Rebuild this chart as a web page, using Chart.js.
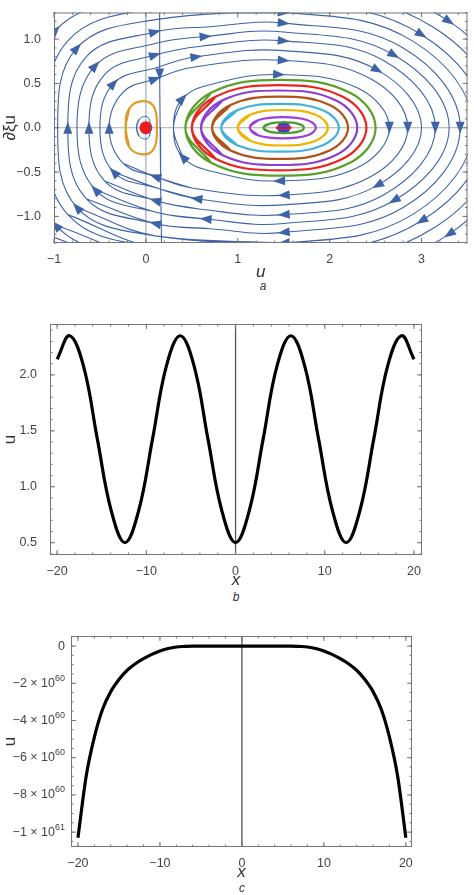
<!DOCTYPE html>
<html>
<head>
<meta charset="utf-8">
<script src="https://cdn.jsdelivr.net/npm/chart.js@4"></script>
<style>
  body { margin: 0; background: #fff; width: 474px; height: 895px; position: relative; overflow: hidden; font-family: "Liberation Sans", Arial, sans-serif; }
  canvas { position: absolute; left: 0; }
  .tag { position: absolute; font-style: italic; font-size: 12px; color: #333; width: 20px; text-align: center; }
</style>
</head>
<body>
<canvas id="pa" style="top:0"></canvas>
<canvas id="pb" style="top:300px"></canvas>
<canvas id="pc" style="top:610px"></canvas>
<div class="tag" style="left:253px;top:279px">a</div>
<div class="tag" style="left:226px;top:590px">b</div>
<div class="tag" style="left:232px;top:881px">c</div>
<script>
// ---- panel a: phase portrait ----
var orbitGreen  = [[0.43,0],[0.709,0.394],[1.465,0.54],[2.221,0.394],[2.5,0],[2.221,-0.394],[1.465,-0.54],[0.709,-0.394],[0.43,0]];
var orbitRed    = [[0.5,0],[0.757,0.35],[1.45,0.48],[2.143,0.35],[2.4,0],[2.143,-0.35],[1.45,-0.48],[0.757,-0.35],[0.5,0]];
var orbitPurple = [[0.6,0],[0.83,0.307],[1.45,0.42],[2.07,0.307],[2.3,0],[2.07,-0.307],[1.45,-0.42],[0.83,-0.307],[0.6,0]];
var orbitBrown  = [[0.72,0],[0.92,0.256],[1.46,0.35],[2.0,0.256],[2.2,0],[2.0,-0.256],[1.46,-0.35],[0.92,-0.256],[0.72,0]];
var orbitCyan   = [[0.82,0],[0.993,0.197],[1.46,0.27],[1.927,0.197],[2.1,0],[1.927,-0.197],[1.46,-0.27],[0.993,-0.197],[0.82,0]];
var orbitYellow = [[1.0,0],[1.132,0.146],[1.49,0.2],[1.848,0.146],[1.98,0],[1.848,-0.146],[1.49,-0.2],[1.132,-0.146],[1.0,0]];
var orbitViolet = [[1.13,0],[1.227,0.088],[1.49,0.12],[1.753,0.088],[1.85,0],[1.753,-0.088],[1.49,-0.12],[1.227,-0.088],[1.13,0]];
var orbitLime   = [[1.28,0],[1.34,0.044],[1.5,0.06],[1.66,0.044],[1.72,0],[1.66,-0.044],[1.5,-0.06],[1.34,-0.044],[1.28,0]];
var orbitTiny   = [[1.42,0],[1.443,0.015],[1.5,0.02],[1.557,0.015],[1.58,0],[1.557,-0.015],[1.5,-0.02],[1.443,-0.015],[1.42,0]];
var orbitLeft   = [[-0.22,0],[-0.18,0.22],[-0.03,0.3],[0.09,0.23],[0.12,0],[0.09,-0.23],[-0.03,-0.3],[-0.18,-0.22],[-0.22,0]];

var streams = [
  [[0.3,0],[0.4,0.33],[0.75,0.5],[1.45,0.6],[2.3,0.45],[2.65,0],[2.3,-0.45],[1.45,-0.6],[0.75,-0.5],[0.4,-0.33],[0.3,0]],
  [[0.1,-0.55],[-0.25,-0.4],[-0.4,0],[-0.25,0.4],[0.1,0.55],[0.5,0.68],[1.5,0.76],[2.45,0.55],[2.85,0],[2.45,-0.55],[1.5,-0.76],[0.5,-0.68],[0.1,-0.55]],
  [[0.12,-0.68],[-0.35,-0.5],[-0.5,0],[-0.35,0.5],[0.12,0.68],[0.55,0.8],[1.5,0.87],[2.52,0.65],[3.0,0],[2.52,-0.65],[1.5,-0.87],[0.55,-0.8],[0.12,-0.68]],
  [[0.1,-0.82],[-0.45,-0.6],[-0.62,0],[-0.45,0.6],[0.1,0.82],[0.6,0.92],[1.5,0.98],[2.6,0.75],[3.15,0],[2.6,-0.75],[1.5,-0.98],[0.6,-0.92],[0.1,-0.82]],
  [[0.1,-0.95],[-0.55,-0.7],[-0.75,0],[-0.55,0.7],[0.1,0.95],[0.65,1.03],[1.5,1.08],[2.7,0.82],[3.3,0],[2.7,-0.82],[1.5,-1.08],[0.65,-1.03],[0.1,-0.95]],
  [[0.1,-1.08],[-0.65,-0.8],[-0.85,0],[-0.65,0.8],[0.1,1.08],[0.7,1.14],[1.5,1.18],[2.8,0.9],[3.42,0],[2.8,-0.9],[1.5,-1.18],[0.7,-1.14],[0.1,-1.08]],
  [[0.1,-1.22],[-0.75,-0.9],[-0.96,0],[-0.75,0.9],[0.1,1.22],[1.5,1.3],[2.9,0.98],[3.56,0],[2.9,-0.98],[1.5,-1.3],[0.1,-1.22]],
  [[0.1,-1.35],[-0.85,-0.98],[-1.08,0],[-0.85,0.98],[0.1,1.35],[1.5,1.42],[3.0,1.05],[3.7,0],[3.0,-1.05],[1.5,-1.42],[0.1,-1.35]],
  [[0.1,-1.48],[-0.98,-1.1],[-1.2,0],[-0.98,1.1],[0.1,1.48],[1.5,1.56],[3.15,1.12],[3.85,0],[3.15,-1.12],[1.5,-1.56],[0.1,-1.48]],
  [[0.1,-1.62],[-1.1,-1.2],[-1.35,0],[-1.1,1.2],[0.1,1.62],[1.5,1.7],[3.3,1.2],[4.0,0],[3.3,-1.2],[1.5,-1.7],[0.1,-1.62]]
];
var streamSep = [[0.15,1.3],[0.15,0.6],[0.155,0],[0.16,-0.6],[0.17,-1.3]];
var streamCore = [[-0.1,0],[-0.07,0.1],[0.02,0.12],[0.05,0],[0.02,-0.12],[-0.07,-0.1],[-0.1,0]];
var fixedPoints = [[0,0,'#ee1c1c'],[1.5,0,'#1f3ff0']];
var aTicksX = [-1,0,1,2,3];
var aTicksY = [-1.0,-0.5,0.0,0.5,1.0];

// ---- panel b: periodic wave ----
var bX = [-20,-18.6,-17.05,-15.5,-13.95,-12.4,-10.85,-9.3,-7.75,-6.2,-4.65,-3.1,-1.55,0,
          1.55,3.1,4.65,6.2,7.75,9.3,10.85,12.4,13.95,15.5,17.05,18.6,20];
var bU = [2.14,2.35,2.08,1.43,0.79,0.5,0.79,1.43,2.08,2.35,2.08,1.43,0.79,0.5,
          0.79,1.43,2.08,2.35,2.08,1.43,0.79,0.5,0.79,1.43,2.08,2.35,2.14];
var bTicksX = [-20,-10,0,10,20];
var bTicksY = [0.5,1.0,1.5,2.0];

// ---- panel c: blow-up (values in units of 1e60) ----
var cX = [];
for (var i = -20; i <= 20; i++) cX.push(i);
var cU = [-10.3,-7.0,-4.9,-3.4,-2.45,-1.8,-1.3,-0.95,-0.68,-0.45,-0.27,-0.13,-0.05,-0.02,0,0,0,0,0,0,0,
          0,0,0,0,0,0,-0.02,-0.05,-0.13,-0.27,-0.45,-0.68,-0.95,-1.3,-1.8,-2.45,-3.4,-4.9,-7.0,-10.3];
var cTicksX = [-20,-10,0,10,20];
var cTicksY = [0,-2,-4,-6,-8,-10];
var cTickMant = ['0','\u22122 \u00d7 10','\u22124 \u00d7 10','\u22126 \u00d7 10','\u22128 \u00d7 10','\u22121 \u00d7 10'];
var cTickExp = ['','60','60','60','60','61'];

var tickFont = { family: 'Liberation Sans', size: 12.5 };
var tickColor = '#444';
var blue = '#3d63a8';

function pts(list) { return list.map(function (p) { return { x: p[0], y: p[1] }; }); }

var framePlugin = {
  id: 'frame',
  beforeDatasetsDraw: function (chart, args, o) {
    var c = chart.ctx, a = chart.chartArea, x = chart.scales.x, y = chart.scales.y;
    c.save();
    c.beginPath(); c.rect(a.left, a.top, a.right - a.left, a.bottom - a.top); c.clip();
    if (o.zeroH) { c.strokeStyle = o.zeroH; c.lineWidth = 1; c.beginPath(); var py = y.getPixelForValue(0); c.moveTo(a.left, py); c.lineTo(a.right, py); c.stroke(); }
    if (o.zeroV) { c.strokeStyle = o.zeroV; c.lineWidth = o.zeroW || 1; c.beginPath(); var px = x.getPixelForValue(0); c.moveTo(px, a.top); c.lineTo(px, a.bottom); c.stroke(); }
    c.restore();
  },
  afterDraw: function (chart, args, o) {
    var c = chart.ctx, a = chart.chartArea, x = chart.scales.x, y = chart.scales.y;
    c.save();
    c.strokeStyle = '#777'; c.lineWidth = 1;
    c.strokeRect(a.left + 0.5, a.top + 0.5, a.right - a.left - 1, a.bottom - a.top - 1);
    function tx(v, len) { var p = x.getPixelForValue(v); c.beginPath(); c.moveTo(p, a.bottom); c.lineTo(p, a.bottom - len); c.moveTo(p, a.top); c.lineTo(p, a.top + len); c.stroke(); }
    function ty(v, len) { var p = y.getPixelForValue(v); c.beginPath(); c.moveTo(a.left, p); c.lineTo(a.left + len, p); c.moveTo(a.right, p); c.lineTo(a.right - len, p); c.stroke(); }
    var v;
    for (v = Math.ceil(x.min / o.xMinor) * o.xMinor; v <= x.max; v += o.xMinor) tx(v, 2.5);
    for (v = Math.ceil(y.min / o.yMinor) * o.yMinor; v <= y.max; v += o.yMinor) ty(v, 2.5);
    x.ticks.forEach(function (t) { tx(t.value, 5); });
    y.ticks.forEach(function (t) { ty(t.value, 5); });
    // power-of-ten labels drawn as text with raised exponent
    if (o.mant) {
      c.fillStyle = tickColor; c.textBaseline = 'middle'; c.textAlign = 'left';
      o.vals.forEach(function (val, k) {
        var p = y.getPixelForValue(val);
        c.font = '12.5px "Liberation Sans"';
        var w1 = c.measureText(o.mant[k]).width;
        c.font = '9px "Liberation Sans"';
        var w2 = c.measureText(o.exp[k]).width;
        var x0 = a.left - 6 - w1 - w2;
        c.font = '12.5px "Liberation Sans"';
        c.fillText(o.mant[k], x0, p);
        c.font = '9px "Liberation Sans"';
        c.fillText(o.exp[k], x0 + w1, p - 5);
      });
    }
    c.restore();
  }
};

var arrowPlugin = {
  id: 'arrows',
  afterDatasetsDraw: function (chart) {
    var c = chart.ctx, a = chart.chartArea;
    c.save();
    c.beginPath(); c.rect(a.left, a.top, a.right - a.left, a.bottom - a.top); c.clip();
    chart.data.datasets.forEach(function (ds, di) {
      if (!ds.arrows) return;
      var el = chart.getDatasetMeta(di).data;
      for (var i = ds.arrowStart || 1; i < el.length - 1; i += ds.arrowStep || 2) {
        var ang = Math.atan2(el[i + 1].y - el[i - 1].y, el[i + 1].x - el[i - 1].x);
        c.save();
        c.translate(el[i].x, el[i].y); c.rotate(ang);
        c.fillStyle = blue;
        c.beginPath(); c.moveTo(6, 0); c.lineTo(-6, -4.5); c.lineTo(-6, 4.5); c.closePath(); c.fill();
        c.restore();
      }
    });
    c.restore();
  }
};

function axisFit(size) { return function (s) { if (s.isHorizontal()) s.height = size; else s.width = size; }; }
function fixTicks(vals) { return function (s) { s.ticks = vals.map(function (v) { return { value: v }; }); }; }

function makeChart(id, w, h, datasets, cfg) {
  var el = document.getElementById(id);
  el.width = w; el.height = h;
  el.style.width = w + 'px'; el.style.height = h + 'px';
  return new Chart(el, {
    type: 'scatter',
    data: { datasets: datasets },
    options: {
      responsive: false, animation: false,
      layout: { padding: cfg.padding },
      plugins: { legend: { display: false }, tooltip: { enabled: false }, frame: cfg.frame },
      scales: {
        x: {
          min: cfg.x[0], max: cfg.x[1],
          afterBuildTicks: fixTicks(cfg.xTicks), afterFit: axisFit(cfg.xh),
          grid: { display: false }, border: { display: false },
          ticks: { font: tickFont, color: tickColor, maxRotation: 0, padding: 1, callback: function (v) { return String(v).replace('-', '\u2212'); } },
          title: { display: true, text: cfg.xTitle, font: { family: 'Liberation Sans', size: 17, style: 'italic' }, color: '#333', padding: 0 }
        },
        y: {
          min: cfg.y[0], max: cfg.y[1],
          afterBuildTicks: fixTicks(cfg.yTicks), afterFit: axisFit(cfg.yw),
          grid: { display: false }, border: { display: false },
          ticks: { font: tickFont, color: tickColor, padding: 5, callback: cfg.yLabel },
          title: { display: true, text: cfg.yTitle, font: { family: 'Liberation Sans', size: 17 }, color: '#333', padding: 0 }
        }
      }
    },
    plugins: [framePlugin, arrowPlugin]
  });
}

function line(list, color, width, extra) {
  var p = list;
  var n = list.length;
  // closed loops: overlap one vertex on each end so the spline has no corner at the seam
  if (n > 3 && list[0][0] === list[n - 1][0] && list[0][1] === list[n - 1][1]) p = [list[n - 2]].concat(list, [list[1]]);
  var d = { data: pts(p), showLine: true, borderColor: color, borderWidth: width, pointRadius: 0, tension: 0.4, fill: false };
  for (var k in extra) d[k] = extra[k];
  return d;
}

var aSets = streams.map(function (s, k) { return line(s, blue, 1.1, { arrows: true, arrowStep: 2, arrowStart: 2 + (k % 2) }); });
aSets = aSets.concat([
  line(streamSep, blue, 1.1, { arrows: true, arrowStep: 3, tension: 0 }),
  line(streamCore, blue, 1.0, {}),
  line(orbitGreen, '#5aa02c', 2.2), line(orbitRed, '#e8251f', 2.2), line(orbitPurple, '#8a3fd1', 2.2),
  line(orbitBrown, '#b0521a', 2.2), line(orbitCyan, '#3fb0e0', 2.2), line(orbitYellow, '#f0b400', 2.2),
  line(orbitViolet, '#9b3fd8', 2.2), line(orbitLime, '#4f9a2a', 2.2), line(orbitTiny, '#e8251f', 1.5),
  line(orbitLeft, '#e09a2a', 2.2),
  { data: fixedPoints.map(function (p) { return { x: p[0], y: p[1] }; }), pointRadius: 6.5, pointBorderWidth: 0,
    pointBackgroundColor: fixedPoints.map(function (p) { return p[2]; }) }
]);

makeChart('pa', 474, 282, aSets, {
  padding: { top: 2, right: 3, left: 0, bottom: 0 },
  x: [-1, 3.5], y: [-1.3, 1.3], xTicks: aTicksX, yTicks: aTicksY, xh: 39, yw: 54,
  xTitle: 'u', yTitle: '\u2202\u03beu',
  yLabel: function (v) { return v.toFixed(1).replace('-', '\u2212'); },
  frame: { xMinor: 0.2, yMinor: 0.1, zeroH: '#aaa', zeroV: '#8a9ab8' }
});

makeChart('pb', 474, 290, [line(bX.map(function (x, i) { return [x, bU[i]]; }), '#000', 3.2, { tension: 0.4 })], {
  padding: { top: 24, right: 52, left: 0, bottom: 0 },
  x: [-20.8, 20.9], y: [0.39, 2.455], xTicks: bTicksX, yTicks: bTicksY, xh: 35, yw: 50,
  xTitle: 'x', yTitle: 'u',
  yLabel: function (v) { return v.toFixed(1); },
  frame: { xMinor: 2, yMinor: 0.1, zeroV: '#555', zeroW: 1.3 }
});

makeChart('pc', 474, 272, [line(cX.map(function (x, i) { return [x, cU[i]]; }), '#000', 3.2, { cubicInterpolationMode: 'monotone' })], {
  padding: { top: 26, right: 62, left: 0, bottom: 0 },
  x: [-20.85, 20.75], y: [-10.8, 0.54], xTicks: cTicksX, yTicks: cTicksY, xh: 35, yw: 71,
  xTitle: 'x', yTitle: 'u',
  yLabel: function () { return ''; },
  frame: { xMinor: 2, yMinor: 0.5, zeroV: '#555', zeroW: 1.3, vals: cTicksY, mant: cTickMant, exp: cTickExp }
});
</script>
</body>
</html>
